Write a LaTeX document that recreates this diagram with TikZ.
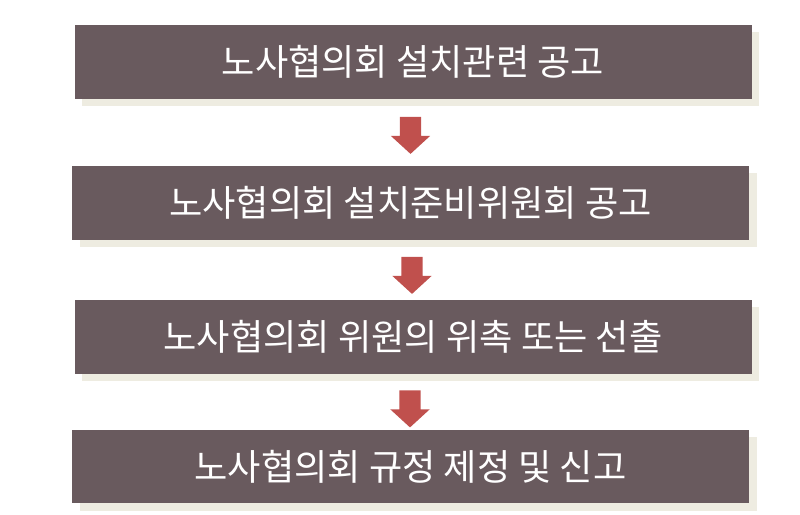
\documentclass[tikz,border=0pt]{standalone}
\usepackage{fontspec}
\usepackage{xcolor}
\newfontfamily\korean{Noto Sans CJK KR}
\usetikzlibrary{shapes.arrows,shadows}

\definecolor{stepgrey}{RGB}{105,90,94}
\definecolor{steptan}{RGB}{238,236,225}
\definecolor{arrowred}{RGB}{192,80,77}

\begin{document}
\begin{tikzpicture}[x=1pt, y=1pt,
	stepbox/.style={fill=stepgrey, text=white, inner sep=0pt, minimum width=677pt, minimum height=74pt,
		drop shadow={shadow xshift=7.5pt, shadow yshift=-7.5pt, fill=steptan, opacity=1},
		font=\korean\fontsize{36.2}{40}\selectfont},
	down/.style={single arrow, fill=arrowred, inner xsep=0pt, inner ysep=10.5pt, rotate=-90, minimum height=37pt,
		single arrow head extend=9pt, single arrow tip angle=95, shape border uses incircle=false}]
	\useasboundingbox (0,0) rectangle (800,514);

	\node (s1) [stepbox] at (413,452) {노사협의회 설치관련 공고};
	\node (s2) [stepbox] at (410.5,311) {노사협의회 설치준비위원회 공고};
	\node (s3) [stepbox] at (413,177) {노사협의회 위원의 위촉 또는 선출};
	\node (s4) [stepbox, minimum height=73pt] at (410.5,47.5) {노사협의회 규정 제정 및 신고};

	% arrows between the steps
	\node (a1) [down] at (410.5,383.5) {};
	\node (a2) [down] at (412,243.5) {};
	\node (a3) [down] at (410,110) {};
\end{tikzpicture}
\end{document}
